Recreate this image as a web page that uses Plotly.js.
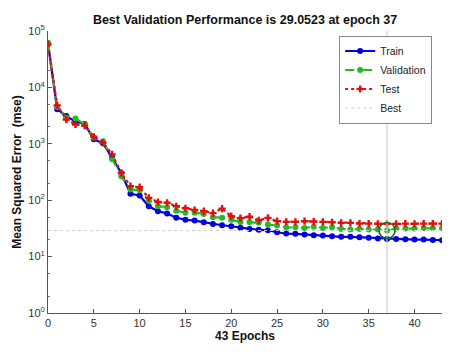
<!DOCTYPE html>
<html>
<head>
<meta charset="utf-8">
<script src="https://cdn.plot.ly/plotly-3.0.1.min.js"></script>
<style>html,body{margin:0;padding:0;background:#fff;}#chart{width:474px;height:355px;}</style>
</head>
<body>
<div id="chart"></div>
<script>
const epochs = Array.from({length: 44}, (_, i) => i);
const trainMSE = [60000, 4100, 3100, 2500, 2250, 1200, 1020, 570, 300, 130, 121, 78, 64, 58, 49, 45, 43.5, 40.6, 38, 36, 34.5, 32.4, 31, 29.8, 29.3, 27, 25.6, 25.3, 24.6, 24, 23.6, 23, 22.4, 22.4, 22, 21.5, 21, 20.6, 20.6, 20.3, 20, 20, 19.7, 19.5];
const validationMSE = [62000, 4500, 2900, 2800, 2200, 1280, 1110, 530, 265, 155, 150, 99, 78, 75, 65, 60, 60, 57, 50, 49, 45, 41, 40.6, 40, 37, 35.5, 33, 33, 32.3, 33.7, 32.3, 33.2, 31, 30.2, 31, 30.2, 30.2, 29.0523, 31.4, 31.4, 31.4, 32.3, 32.3, 31.8];
const testMSE = [58000, 4800, 2700, 2200, 2100, 1330, 1050, 650, 305, 177, 170, 110, 93, 90, 78, 72, 67, 64, 59, 71, 52, 48, 51, 44, 48.6, 42.5, 41.3, 41.3, 42.4, 41.8, 41.3, 40.6, 39.6, 39.6, 38.5, 38.5, 38, 38, 38, 38.5, 38, 38.5, 38.5, 38.5];
const bestEpoch = 37;
const bestPerf = 29.0523;
const yTickVals = [1, 10, 100, 1000, 10000, 100000];
const yTickText = ['10<sup>0</sup>', '10<sup>1</sup>', '10<sup>2</sup>', '10<sup>3</sup>', '10<sup>4</sup>', '10<sup>5</sup>'];
const xTickVals = [0, 5, 10, 15, 20, 25, 30, 35, 40];

const traces = [
  {x: epochs, y: trainMSE, name: 'Train', type: 'scatter', mode: 'lines+markers',
   line: {color: '#0000e0', width: 2.2}, marker: {color: '#0000e0', size: 6, symbol: 'circle'}},
  {x: epochs, y: validationMSE, name: 'Validation', type: 'scatter', mode: 'lines+markers',
   line: {color: '#22bb22', width: 2.2, dash: 'dash'}, marker: {color: '#22bb22', size: 6, symbol: 'circle'}},
  {x: epochs, y: testMSE, name: 'Test', type: 'scatter', mode: 'lines+markers',
   line: {color: '#e01010', width: 2.2, dash: 'dot'}, marker: {color: '#e01010', size: 6, symbol: 'cross'}},
  {x: [0, 43], y: [bestPerf, bestPerf], name: 'Best', type: 'scatter', mode: 'lines',
   line: {color: '#d0d0d0', width: 1, dash: 'dot'}},
  {x: [bestEpoch, bestEpoch], y: [1, 100000], name: 'Best', type: 'scatter', mode: 'lines', showlegend: false,
   line: {color: '#d0d0d0', width: 1.2}},
  {x: [bestEpoch], y: [bestPerf], name: 'BestPoint', type: 'scatter', mode: 'markers', showlegend: false,
   marker: {symbol: 'circle-open', size: 16, color: '#1a6a1a', line: {width: 1.5, color: '#1a6a1a'}}}
];

const layout = {
  width: 474, height: 355,
  margin: {l: 48, r: 32, t: 31, b: 42, pad: 0},
  paper_bgcolor: '#fff', plot_bgcolor: '#fff',
  font: {family: 'Liberation Sans, Arial, sans-serif', size: 11, color: '#333'},
  title: {text: '<b>Best Validation Performance is 29.0523 at epoch 37</b>', font: {size: 12.5, color: '#111'},
          x: 0.517, xanchor: 'center', y: 0.945, yanchor: 'middle'},
  xaxis: {range: [0, 43], tickvals: xTickVals, ticks: 'inside', ticklen: 4, tickcolor: '#555',
          showline: true, linecolor: '#555', linewidth: 1, showgrid: false, zeroline: false,
          tickfont: {size: 11, color: '#333'},
          title: {text: '<b>43 Epochs</b>', font: {size: 12, color: '#111'}, standoff: 3}},
  yaxis: {type: 'log', range: [0, 5], tickvals: yTickVals, ticktext: yTickText, ticks: 'inside', ticklen: 4,
          tickcolor: '#555', showline: true, linecolor: '#555', linewidth: 1, showgrid: false, zeroline: false,
          tickfont: {size: 11, color: '#333'},
          minor: {ticks: 'inside', ticklen: 2, tickcolor: '#777', showgrid: false},
          title: {text: '<b>Mean Squared Error  (mse)</b>', font: {size: 12, color: '#111'}, standoff: 4}},
  legend: {x: 0.975, xanchor: 'right', y: 0.984, yanchor: 'top', bgcolor: '#fff', bordercolor: '#888',
           borderwidth: 1, font: {size: 10.5, color: '#222'}, tracegroupgap: 0, itemwidth: 30},
  showlegend: true
};

Plotly.newPlot('chart', traces, layout, {staticPlot: true, displayModeBar: false});
</script>
</body>
</html>
